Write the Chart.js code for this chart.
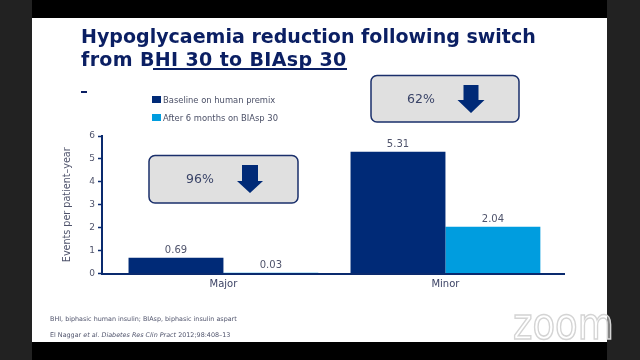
<!DOCTYPE html>
<html>
<head>
<meta charset="utf-8">
<style>
html,body{margin:0;padding:0;width:640px;height:360px;overflow:hidden;background:#222;font-family:"DejaVu Sans",sans-serif}
#slide{position:absolute;left:32px;top:18px;width:575px;height:324px;background:#fff}
.bar{position:absolute;left:32px;width:575px;height:18px;background:#000}
canvas{position:absolute;left:0;top:0}
.t{position:absolute;white-space:nowrap}
#title{left:81px;top:24.5px;color:#0b1f63;font-weight:bold;font-size:19.05px;line-height:23.5px}
#title span{letter-spacing:.35px}
#uline{position:absolute;left:153px;top:68px;width:194px;height:1.5px;background:#0b1f63}
#dash{position:absolute;left:81px;top:91px;width:6px;height:2px;background:#0b1f63}
.lg{position:absolute;left:152px;height:12px;font-size:8.4px;line-height:12px;color:#4a4f66;white-space:nowrap}
.lg i{position:absolute;left:0;top:2px;width:9px;height:7px}
.lg span{position:absolute;left:11px;top:0}
.fn{font-size:6.4px;color:#50546c;left:50px}
#zoomw{left:513px;top:302px;font-family:"DejaVu Sans",sans-serif;font-size:37px;line-height:46px;color:rgba(255,255,255,.45);-webkit-text-stroke:1.3px #d4d4d4;transform:scaleY(1.2);transform-origin:left center}
</style>
</head>
<body>
<div id="slide"></div>
<div class="bar" style="top:0"></div>
<div class="bar" style="top:342px"></div>
<canvas id="c" width="640" height="360"></canvas>
<div class="t" id="title">Hypoglycaemia reduction following switch<br><span>from BHI 30 to BIAsp 30</span></div>
<div id="uline"></div>
<div id="dash"></div>
<div id="legend"></div>
<div class="t fn" style="top:315px">BHI, biphasic human insulin; BIAsp, biphasic insulin aspart</div>
<div class="t fn" style="top:331px">El Naggar <em>et al.</em> <em>Diabetes Res Clin Pract</em> 2012;98:408–13</div>
<div class="t" id="zoomw">zoom</div>
<script src="https://cdn.jsdelivr.net/npm/chart.js@4"></script>
<script>
const categories = ['Major', 'Minor'];
const seriesNames = ['Baseline on human premix', 'After 6 months on BIAsp 30'];
const baseline = [0.69, 5.31];
const after6Months = [0.03, 2.04];
const yTicks = [0, 1, 2, 3, 4, 5, 6];
const reductions = ['96%', '62%'];
const seriesColors = ['#002a77', '#009ddf'];

const navy = '#0a2a6e';
const pair = vals => vals.map((v, i) => ({ x: i, y: v }));

const calloutBoxes = [
  { x: 149, y: 155.5, w: 149, h: 47.5, tx: 200, ty: 180, ax: 250, ay: 165, sw: 16, sh: 16, hw: 26, hh: 12 },
  { x: 371, y: 75.5, w: 148, h: 46.5, tx: 421, ty: 100, ax: 471, ay: 85, sw: 15, sh: 15, hw: 27, hh: 13 }
];

const overlays = {
  id: 'overlays',
  afterDatasetsDraw(chart) {
    const ctx = chart.ctx;
    ctx.save();
    ctx.font = '10px "DejaVu Sans"';
    ctx.fillStyle = '#50546c';
    ctx.textAlign = 'center';
    ctx.textBaseline = 'middle';
    chart.data.datasets.forEach((ds, di) => {
      chart.getDatasetMeta(di).data.forEach((el, i) => {
        ctx.fillText(ds.data[i].y.toFixed(2), el.x, el.y - 7);
      });
    });
    calloutBoxes.forEach((b, i) => {
      ctx.beginPath();
      ctx.roundRect(b.x, b.y, b.w, b.h, 6);
      ctx.fillStyle = '#e0e0e0';
      ctx.fill();
      ctx.lineWidth = 1.5;
      ctx.strokeStyle = '#1a2f6b';
      ctx.stroke();
      ctx.fillStyle = '#3a4468';
      ctx.font = '12.5px "DejaVu Sans"';
      ctx.fillText(reductions[i], b.tx, b.ty);
      ctx.fillStyle = '#002a77';
      ctx.beginPath();
      ctx.moveTo(b.ax - b.sw / 2, b.ay);
      ctx.lineTo(b.ax + b.sw / 2, b.ay);
      ctx.lineTo(b.ax + b.sw / 2, b.ay + b.sh);
      ctx.lineTo(b.ax + b.hw / 2, b.ay + b.sh);
      ctx.lineTo(b.ax, b.ay + b.sh + b.hh);
      ctx.lineTo(b.ax - b.hw / 2, b.ay + b.sh);
      ctx.lineTo(b.ax - b.sw / 2, b.ay + b.sh);
      ctx.closePath();
      ctx.fill();
    });
    ctx.restore();
  }
};

new Chart(document.getElementById('c'), {
  type: 'bar',
  data: {
    datasets: [
      { label: seriesNames[0], data: pair(baseline), backgroundColor: seriesColors[0] },
      { label: seriesNames[1], data: pair(after6Months), backgroundColor: seriesColors[1] }
    ]
  },
  options: {
    responsive: false,
    animation: false,
    layout: { padding: { left: 62, right: 76, top: 136, bottom: 56.5 } },
    plugins: { legend: { display: false }, tooltip: { enabled: false } },
    datasets: { bar: { categoryPercentage: 0.855, barPercentage: 1 } },
    scales: {
      x: {
        type: 'linear',
        offset: false,
        min: -0.547,
        max: 1.534,
        afterBuildTicks(s) { s.ticks = categories.map((_, i) => ({ value: i })); },
        afterFit(s) { s.height = 30; },
        grid: { display: false, drawTicks: false, offset: false },
        border: { color: navy, width: 2 },
        ticks: {
          autoSkip: false, maxRotation: 0, padding: 5,
          font: { family: '"DejaVu Sans"', size: 10 }, color: '#3d4466',
          callback: v => categories[v]
        }
      },
      y: {
        min: 0,
        max: 6,
        afterBuildTicks(s) { s.ticks = yTicks.map(v => ({ value: v })); },
        afterFit(s) { s.width = 40; },
        grid: { drawOnChartArea: false, drawTicks: true, tickLength: 4, color: navy, tickWidth: 1.5 },
        border: { color: navy, width: 2 },
        ticks: { padding: 3, font: { family: '"DejaVu Sans"', size: 9 }, color: '#50546c' },
        title: {
          display: true, text: 'Events per patient–year', color: '#50546c',
          font: { family: '"DejaVu Sans"', size: 9.6 }, padding: 0
        }
      }
    }
  },
  plugins: [overlays]
});

const legendEl = document.getElementById('legend');
seriesNames.forEach((n, i) => {
  const d = document.createElement('div');
  d.className = 'lg';
  d.style.top = (94 + i * 18) + 'px';
  d.style.width = '200px';
  d.innerHTML = '<i style="background:' + seriesColors[i] + '"></i><span>' + n + '</span>';
  legendEl.appendChild(d);
});
</script>
</body>
</html>
